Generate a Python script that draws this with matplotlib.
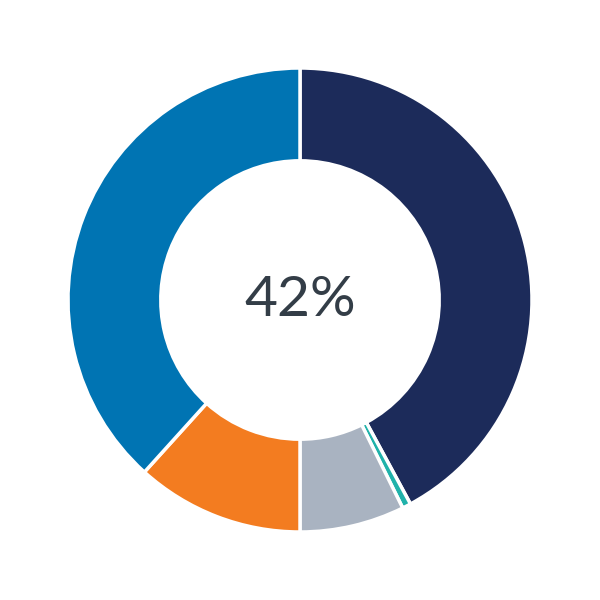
import matplotlib
matplotlib.use("Agg")
import matplotlib.pyplot as plt

labels = ["Navy", "Teal", "Gray", "Orange", "Blue"]
values = [42.1, 0.6, 7.3, 11.7, 38.3]
colors = ["#1c2b5a", "#20b2aa", "#a9b3c1", "#f37c20", "#0074b3"]
center_label = "42%"

fig = plt.figure(figsize=(6, 6), dpi=100)
ax = fig.add_axes([0, 0, 1, 1])
ax.pie(values, colors=colors, startangle=90, counterclock=False, radius=1.0,
       wedgeprops=dict(width=0.4, edgecolor="white", linewidth=2.5))
lim = 300 / 232
ax.set_xlim(-lim, lim)
ax.set_ylim(-lim, lim)
ax.set_aspect("equal")
ax.axis("off")
ax.text(0, 0.0, center_label, ha="center", va="center", fontsize=41,
        color="#333d47", family="Lato", fontweight="normal")
fig.savefig("out.png", dpi=100)
